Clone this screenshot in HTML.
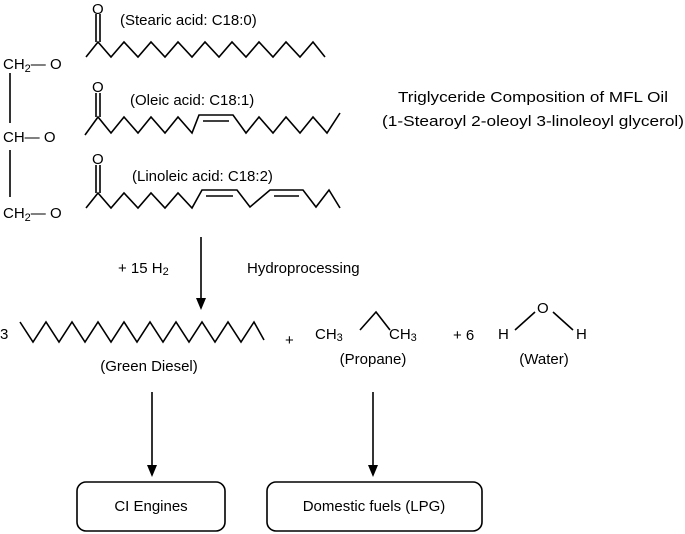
<!DOCTYPE html>
<html><head><meta charset="utf-8"><style>
html,body{margin:0;padding:0;background:#fff;}
svg{display:block;}
text{font-family:"Liberation Sans",sans-serif;font-size:15px;fill:#000;}
</style></head><body>
<svg width="685" height="534" viewBox="0 0 685 534" xmlns="http://www.w3.org/2000/svg">
<g stroke="#000" stroke-width="1.6" fill="none">
<line x1="10" y1="73" x2="10" y2="123"/>
<line x1="10" y1="150" x2="10" y2="197"/>
<polyline points="86,57 98,42 111,57 124,42 138,57 151,42 165,57 178,42 192,57 205,42 219,57 232,42 246,57 259,42 273,57 286,42 300,57 313,42 325,57"/>
<line x1="96" y1="42" x2="96" y2="14"/><line x1="100" y1="42" x2="100" y2="14"/>
<polyline points="85,135 98,117 111,133 124,117 138,133 151,117 165,133 178,117 192,133 199,115 233,115 246,133 259,117 273,133 286,117 300,133 313,117 327,133 340,113"/>
<line x1="203" y1="121" x2="229" y2="121"/>
<line x1="96" y1="117" x2="96" y2="93"/><line x1="100" y1="117" x2="100" y2="93"/>
<polyline points="86,208 98,193 111,208 124,193 138,208 151,193 165,208 178,193 192,208 202,190 237,190 250,207 270,190 303,190 316,207 329,190 340,208"/>
<line x1="206" y1="196" x2="233" y2="196"/>
<line x1="274" y1="196" x2="299" y2="196"/>
<line x1="96" y1="193" x2="96" y2="165"/><line x1="100" y1="193" x2="100" y2="165"/>
<line x1="201" y1="237" x2="201" y2="300"/>
<polyline points="20,322 33,342 46,322 59,342 72,322 85,342 98,322 111,342 124,322 137,342 150,322 163,342 176,322 189,342 202,322 215,342 228,322 241,342 254,322 264,340"/>
<polyline points="360,330 376,312 390,330"/>
<line x1="515" y1="330" x2="535" y2="312"/><line x1="553" y1="312" x2="573" y2="330"/>
<line x1="152" y1="392" x2="152" y2="467"/>
<line x1="373" y1="392" x2="373" y2="467"/>
<rect x="77" y="482" width="148" height="49" rx="9"/>
<rect x="267" y="482" width="215" height="49" rx="9"/>
</g>
<g fill="#000">
<polygon points="196,298 206,298 201,310"/>
<polygon points="147,465 157,465 152,477"/>
<polygon points="368,465 378,465 373,477"/>
</g>
<text x="3" y="69">CH<tspan font-size="11" dy="3">2</tspan><tspan dy="-3">— O</tspan></text>
<text x="3" y="142">CH— O</text>
<text x="3" y="218">CH<tspan font-size="11" dy="3">2</tspan><tspan dy="-3">— O</tspan></text>
<text x="92" y="14">O</text>
<text x="92" y="92">O</text>
<text x="92" y="164">O</text>
<text x="120" y="25">(Stearic acid: C18:0)</text>
<text x="130" y="105">(Oleic acid: C18:1)</text>
<text x="132" y="181">(Linoleic acid: C18:2)</text>
<text x="398" y="102" font-size="17" textLength="270" lengthAdjust="spacingAndGlyphs">Triglyceride Composition of MFL Oil</text>
<text x="382" y="126" font-size="17" textLength="302" lengthAdjust="spacingAndGlyphs">(1-Stearoyl 2-oleoyl 3-linoleoyl glycerol)</text>
<text x="118" y="273">+ 15 H<tspan font-size="11" dy="2">2</tspan></text>
<text x="247" y="273">Hydroprocessing</text>
<text x="0" y="339">3</text>
<text x="285" y="345">+</text>
<text x="315" y="339">CH<tspan font-size="11" dy="2">3</tspan></text>
<text x="389" y="339">CH<tspan font-size="11" dy="2">3</tspan></text>
<text x="453" y="340">+  6</text>
<text x="498" y="339">H</text>
<text x="537" y="313">O</text>
<text x="576" y="339">H</text>
<text x="149" y="371" text-anchor="middle">(Green Diesel)</text>
<text x="373" y="364" text-anchor="middle">(Propane)</text>
<text x="544" y="364" text-anchor="middle">(Water)</text>
<text x="151" y="511" text-anchor="middle">CI Engines</text>
<text x="374" y="511" text-anchor="middle">Domestic fuels (LPG)</text>
</svg>
</body></html>
